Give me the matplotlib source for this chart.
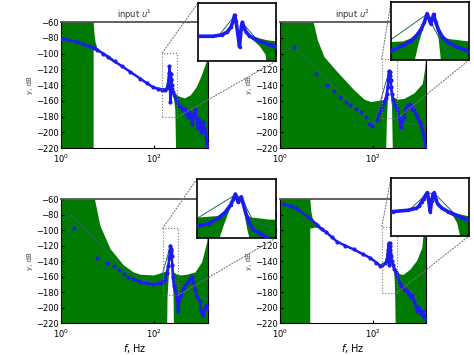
import numpy as np
import matplotlib
matplotlib.use('Agg')
import matplotlib.pyplot as plt
from matplotlib.patches import Rectangle, ConnectionPatch

nan = np.nan

# ---- input u^1, output 1 (oben links)
freq_tl = [1, 1.5, 2.2, 3, 4, 5, 5.8, 8, 10, 14, 20, 30, 50, 70, 95, 120, 148, 170, 185, 195,
           202, 206, 209, 212, 215, 219, 221, 223, 225, 228, 233, 240, 250, 265, 285, 309, 330, 371, 400, 440,
           470, 520, 560, 600, 650, 700, 750, 800, 850, 910, 960, 1000, 1100, 1150, 1220, 1280, 1330, 1380]
mag_tl = [-81, -83, -85, -88, -91, -93, -95, -100, -104, -110, -116, -123, -132, -138, -143, -145, -146, -146, -144, -140,
          -133, -125, -116, -125, -140, -161, -145, -132, -126, -133, -140, -145, -149, -153, -157, -161, -166, -168, -172, -170,
          -175, -180, -174, -177, -190, -178, -171, -182, -194, -184, -191, -200, -187, -195, -200, -207, -213, -218]
model_f_tl = [1, 2.2, 5.8, 95, 180, 209, 219, 225, 260, 309, 600, 1000, 1400]
model_tl = [-81, -85, -95, -143, -145, -117, -158, -127, -152, -161, -178, -192, -208]
band_f_tl = [1, 4.99, 5.0, 5.2, 5.5, 6, 7, 8, 10, 13, 14, 240, 250, 265, 280, 290, 309, 350, 450, 600,
             800, 1000, 1200, 1400]
band_hi_tl = [-60, -60, -60, -75, -86, -93, -97, -99, -102, -107, nan, nan, -146, -149, -151, -152, -153, -155, -157, -153,
              -143, -130, -117, -106]
band_lo_tl = [-220, -220, -94, -95, -96, -97, -99, -102, -106, -111, nan, nan, -152, -160, -172, -220, -220, -220, -220, -220,
              -220, -220, -220, -220]

# ---- input u^2, output 1 (oben rechts)
freq_tr = [2.0, 6.1, 10.5, 14.6, 20, 26, 33, 43, 55, 70, 83, 98, 125, 155, 175, 190, 200, 210, 217, 223,
           227, 231, 235, 238, 243, 250, 260, 275, 300, 340, 370, 398, 430, 469, 510, 555, 600, 655, 700, 772,
           850, 912, 1000, 1072, 1150, 1227, 1300, 1380]
mag_tr = [-92, -126, -140, -147, -155, -161, -165, -171, -174, -180, -189, -192, -184, -170, -163, -157, -151, -142, -133, -122,
          -128, -135, -129, -123, -133, -143, -152, -159, -165, -171, -180, -193, -186, -180, -170, -167, -164, -165, -170, -172,
          -177, -180, -186, -190, -196, -201, -208, -218]
model_f_tr = [1, 2.0, 104, 222, 286, 655, 1400]
model_tr = [-99, -92, -192, -123, -184, -189, -193]
band_f_tr = [1, 5.2, 6.4, 8.9, 17, 39, 65, 90, 148, 175, 190, 196, 205, 212, 218, 223, 228, 233, 238, 244,
             250, 256, 263, 280, 337, 468, 772, 1167, 1300, 1400]
band_hi_tr = [-60, -60, -83, -104, -123, -146, -158, -161, -159, -158, -154, -150, -144, -137, -130, -120, -126, -130, -121, -131,
              -140, -148, -153, -155, -158, -157, -150, -138, -120, -100]
band_lo_tr = [-220, -220, -220, -220, -220, -220, -220, -220, -220, -220, -220, -185, -160, -146, -135, -125, -131, -137, -126, -137,
              -152, -182, -220, -220, -220, -220, -220, -220, -220, -220]

# ---- input u^1, output 2 (unten links)
freq_bl = [1.9, 6.0, 9.8, 13.9, 17.7, 22, 27.6, 35, 49, 68, 95, 131, 150, 168, 185, 198, 208, 214, 218, 221,
           224, 228, 231, 235, 240, 248, 260, 280, 299, 320, 340, 370, 420, 480, 531, 580, 627, 680, 740, 820,
           946, 1000, 1100, 1200, 1300, 1380]
mag_bl = [-97, -136, -142, -147, -152, -157, -160, -163, -167, -169, -170, -169, -167, -163, -155, -146, -136, -127, -120, -126,
          -132, -128, -124, -133, -145, -160, -172, -178, -184, -205, -190, -184, -175, -170, -167, -163, -160, -167, -177, -186,
          -192, -205, -210, -201, -197, -200]
model_f_bl = [1, 1.7, 23.4, 60, 131, 218, 231, 260, 324, 600, 1400]
model_bl = [-88, -81, -152, -165, -168, -121, -125, -160, -170, -180, -190]
band_f_bl = [1, 5.2, 6.8, 11.2, 21.6, 35, 49, 95, 155, 183, 186, 195, 205, 212, 218, 222, 226, 231, 235, 240,
             245, 251, 254, 300, 353, 490, 739, 1024, 1312, 1400]
band_hi_bl = [-60, -60, -94, -124, -145, -154, -157, -158, -154, -152, -151, -147, -137, -128, -118, -123, -127, -122, -130, -142,
              -150, -153, -154, -157, -158, -157, -154, -141, -115, -98]
band_lo_bl = [-220, -220, -220, -220, -220, -220, -220, -220, -220, -220, -186, -165, -145, -134, -123, -130, -134, -127, -137, -155,
              -172, -186, -220, -220, -220, -220, -220, -220, -220, -220]

# ---- input u^2, output 2 (unten rechts)
freq_br = [1.2, 1.7, 2.2, 4, 6.3, 8, 10, 13, 17, 25, 39, 60, 88, 120, 144, 160, 185, 200, 205, 210,
           214, 219, 222, 225, 228, 231, 234, 237, 240, 245, 255, 270, 290, 310, 330, 380, 420, 457, 500, 555,
           600, 655, 700, 772, 850, 912, 1000, 1100, 1200, 1300, 1380]
mag_br = [-67, -69, -72, -83, -93, -99, -103, -109, -115, -120, -125, -131, -136, -142, -146, -145, -143, -140, -137, -131,
          -126, -120, -117, -130, -145, -130, -120, -117, -126, -134, -140, -145, -150, -154, -158, -168, -174, -175, -177, -179,
          -182, -187, -184, -192, -198, -205, -200, -209, -205, -212, -215]
model_f_br = [1, 1.2, 1.7, 2.2, 6.3, 17, 39, 88, 144, 185, 222, 237, 300, 700, 1400]
model_br = [-68, -67, -69, -72, -93, -115, -125, -136, -147, -144, -118, -118, -155, -180, -210]
band_f_br = [1, 4.49, 4.5, 4.7, 5.0, 5.5, 6.3, 7, 8, 9, 9.5, 265, 270, 284, 295, 303, 310, 330, 380, 457,
             560, 650, 770, 900, 1000, 1167, 1300, 1400]
band_hi_br = [-60, -60, -60, -75, -84, -89, -91, -94, -97, -100, nan, nan, -143, -146, -148, -149, -150, -152, -157, -158,
              -154, -151, -145, -140, -133, -123, -93, -72]
band_lo_br = [-220, -220, -98, -98, -98, -97, -97, -99, -101, -103, nan, nan, -148, -152, -162, -181, -220, -220, -220, -220,
              -220, -220, -220, -220, -220, -220, -220, -220]

titles = ['input $u^1$', 'input $u^2$']
yticks = [-60, -80, -100, -120, -140, -160, -180, -200, -220]

green = '#007a00'
blue = '#1c1cf0'
teal = '#236a6a'

panels = [
    dict(f=freq_tl, y=mag_tl, mf=model_f_tl, my=model_tl, bf=band_f_tl, hi=band_hi_tl, lo=band_lo_tl,
         rect=[0.1287, 0.583, 0.3101, 0.355], ins=[0.4177, 0.828, 0.1646, 0.1634],
         win=(148, 309, -181, -99), line_from=0, title=titles[0], xlabel=False),
    dict(f=freq_tr, y=mag_tr, mf=model_f_tr, my=model_tr, bf=band_f_tr, hi=band_hi_tr, lo=band_lo_tr,
         rect=[0.5907, 0.583, 0.308, 0.355], ins=[0.8249, 0.831, 0.1646, 0.1634],
         win=(155, 340, -182, -107), line_from=100, title=titles[1], xlabel=False),
    dict(f=freq_bl, y=mag_bl, mf=model_f_bl, my=model_bl, bf=band_f_bl, hi=band_hi_bl, lo=band_lo_bl,
         rect=[0.1287, 0.0901, 0.3101, 0.3493], ins=[0.4156, 0.3296, 0.1667, 0.1662],
         win=(150, 324, -184, -98), line_from=30, title=None, xlabel=True),
    dict(f=freq_br, y=mag_br, mf=model_f_br, my=model_br, bf=band_f_br, hi=band_hi_br, lo=band_lo_br,
         rect=[0.5907, 0.0901, 0.308, 0.3493], ins=[0.8249, 0.3352, 0.1646, 0.1634],
         win=(157, 330, -181, -95.5), line_from=0, title=None, xlabel=True),
]


def draw(ax, p, lw, ms):
    f = np.array(p['f'])
    y = np.array(p['y'])
    ax.fill_between(np.array(p['bf']), np.array(p['lo']), np.array(p['hi']),
                    color=green, linewidth=0, zorder=1)
    ax.plot(p['mf'], p['my'], color=teal, lw=0.7, zorder=2)
    dense = f >= p['line_from']
    ax.plot(f[dense], y[dense], color=blue, lw=lw, zorder=3, solid_joinstyle='round')
    ax.plot(f, y, '.', color=blue, ms=ms, zorder=4)
    ax.set_xscale('log')


fig = plt.figure(figsize=(4.74, 3.55), dpi=100)

for p in panels:
    ax = fig.add_axes(p['rect'])
    draw(ax, p, 1.8, 4)
    ax.set_xlim(1, 1400)
    ax.set_ylim(-220, -60)
    ax.set_yticks(yticks)
    ax.set_xticks([1, 100])
    ax.set_xticklabels(['$10^0$', '$10^2$'])
    ax.minorticks_off()
    ax.tick_params(labelsize=6, length=2, direction='in', pad=1.5)
    ax.tick_params(axis='x', pad=3.5)
    for s in ax.spines.values():
        s.set_linewidth(0.8)
    ax.spines['top'].set_color('#555555')
    ax.spines['top'].set_linewidth(1.3)
    ax.set_ylabel('y, dB', fontsize=5, color='#444444', labelpad=2)
    if p['title']:
        ax.set_title(p['title'], fontsize=6, pad=2, color='#333333')
    if p['xlabel']:
        ax.set_xlabel('$f$, Hz', fontsize=7, labelpad=1)

    x1, x2, y1, y2 = p['win']
    ax.add_patch(Rectangle((x1, y1), x2 - x1, y2 - y1, fill=False, ls=':',
                           lw=0.8, ec='#777777', zorder=5))

    # Ausschnitt um die Resonanz
    axi = fig.add_axes(p['ins'], zorder=5)
    draw(axi, p, 2.6, 3)
    axi.set_xlim(x1, x2)
    axi.set_ylim(y1, y2)
    axi.set_xticks([])
    axi.set_yticks([])
    axi.minorticks_off()
    for s in axi.spines.values():
        s.set_linewidth(1.2)

    for (xa, ya), (xb, yb) in [((x1, y2), (0, 1)), ((x2, y1), (1, 0))]:
        con = ConnectionPatch(xyA=(xa, ya), coordsA=ax.transData,
                              xyB=(xb, yb), coordsB=axi.transAxes,
                              ls=':', lw=0.8, color='#777777', zorder=4)
        fig.add_artist(con)

fig.savefig('out.png', dpi=100)
